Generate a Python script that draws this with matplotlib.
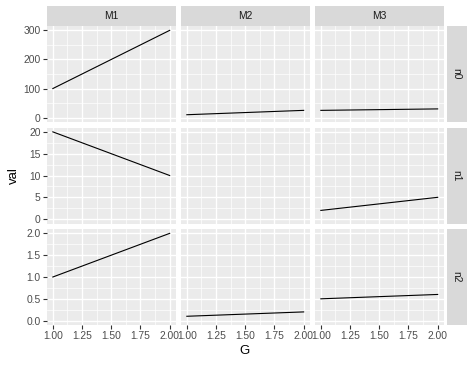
import matplotlib
matplotlib.use("Agg")
import matplotlib.pyplot as plt
import numpy as np

# ---- data ----
G = [1.0, 2.0]
row_labels = ["n0", "n1", "n2"]
col_labels = ["M1", "M2", "M3"]
n0_M1 = [100, 300]
n0_M2 = [10, 25]
n0_M3 = [25, 30]
n1_M1 = [20, 10]
n1_M2 = None
n1_M3 = [2, 5]
n2_M1 = [1.0, 2.0]
n2_M2 = [0.1, 0.2]
n2_M3 = [0.5, 0.6]
series = {
    ("n0", "M1"): n0_M1, ("n0", "M2"): n0_M2, ("n0", "M3"): n0_M3,
    ("n1", "M1"): n1_M1, ("n1", "M2"): n1_M2, ("n1", "M3"): n1_M3,
    ("n2", "M1"): n2_M1, ("n2", "M2"): n2_M2, ("n2", "M3"): n2_M3,
}
x_ticks = [1.00, 1.25, 1.50, 1.75, 2.00]
x_ticklabels = ["1.00", "1.25", "1.50", "1.75", "2.00"]
y_ticks = {
    "n0": [0, 100, 200, 300],
    "n1": [0, 5, 10, 15, 20],
    "n2": [0.0, 0.5, 1.0, 1.5, 2.0],
}
y_ticklabels = {
    "n0": ["0", "100", "200", "300"],
    "n1": ["0", "5", "10", "15", "20"],
    "n2": ["0.0", "0.5", "1.0", "1.5", "2.0"],
}

# ---- layout (pixels) ----
W, H = 474, 365
DPI = 100
fig = plt.figure(figsize=(W / DPI, H / DPI), dpi=DPI)
fig.patch.set_facecolor("white")
plt.rcParams["font.family"] = ["Liberation Sans", "DejaVu Sans"]

def ax_px(x0, y0, w, h):
    return fig.add_axes([x0 / W, 1 - (y0 + h) / H, w / W, h / H])

panel_left = 47.0
panel_right = 443.5
gap = 5.5
pw = (panel_right - panel_left - 2 * gap) / 3
row_tops = [26.0, 127.5, 229.0]
ph = 96.0
strip_top = 6.0
strip_h = 20.0
rstrip_x = 446.5
rstrip_w = 20.0

bg = "#EBEBEB"
strip_bg = "#D9D9D9"
tick_col = "#4D4D4D"
tick_fs = 7.4
strip_fs = 7.4

def xlim_from(vals):
    lo, hi = min(vals), max(vals)
    e = 0.05 * (hi - lo)
    return lo - e, hi + e

xl = xlim_from(G)

for ri, r in enumerate(row_labels):
    vals = [0.0]
    for c in col_labels:
        s = series[(r, c)]
        if s is not None:
            vals += list(s)
    lo, hi = min(vals), max(vals)
    e = 0.05 * (hi - lo)
    yl = (lo - e, hi + e)
    yt = y_ticks[r]
    ymin_minor = [(a + b) / 2 for a, b in zip(yt[:-1], yt[1:])]
    step = yt[1] - yt[0]
    extra = [yt[0] - step / 2, yt[-1] + step / 2]
    ymin_minor += [v for v in extra if yl[0] <= v <= yl[1]]
    xmin_minor = [(a + b) / 2 for a, b in zip(x_ticks[:-1], x_ticks[1:])]
    for ci, c in enumerate(col_labels):
        x0 = panel_left + ci * (pw + gap)
        ax = ax_px(x0, row_tops[ri], pw, ph)
        ax.set_facecolor(bg)
        for sp in ax.spines.values():
            sp.set_visible(False)
        ax.set_xlim(*xl)
        ax.set_ylim(*yl)
        ax.set_xticks(x_ticks)
        ax.set_yticks(yt)
        ax.set_xticks(xmin_minor, minor=True)
        ax.set_yticks(ymin_minor, minor=True)
        ax.grid(True, which="major", color="white", linewidth=1.0)
        ax.grid(True, which="minor", color="white", linewidth=0.5)
        ax.set_axisbelow(True)
        ax.tick_params(which="minor", length=0)
        ax.tick_params(which="major", length=3, width=0.8, color="#333333",
                       labelsize=tick_fs, labelcolor=tick_col, pad=1.5)
        if ci == 0:
            ax.set_yticklabels(y_ticklabels[r])
        else:
            ax.tick_params(axis="y", length=0, labelleft=False)
        if ri == len(row_labels) - 1:
            ax.set_xticklabels(x_ticklabels)
        else:
            ax.tick_params(axis="x", length=0, labelbottom=False)
        s = series[(r, c)]
        if s is not None:
            ax.plot(G, s, color="black", linewidth=0.8)

        # column strips
        if ri == 0:
            sa = ax_px(x0, strip_top, pw, strip_h)
            sa.set_facecolor(strip_bg)
            sa.set_xticks([]); sa.set_yticks([])
            for sp in sa.spines.values():
                sp.set_visible(False)
            sa.text(0.5, 0.5, c, ha="center", va="center", fontsize=strip_fs,
                    color="#1A1A1A", transform=sa.transAxes)
    # row strip
    ra = ax_px(rstrip_x, row_tops[ri], rstrip_w, ph)
    ra.set_facecolor(strip_bg)
    ra.set_xticks([]); ra.set_yticks([])
    for sp in ra.spines.values():
        sp.set_visible(False)
    ra.text(0.5, 0.5, r, ha="center", va="center", fontsize=strip_fs,
            color="#1A1A1A", rotation=-90, transform=ra.transAxes)

fig.text(245 / W, 1 - 351 / H, "G", ha="center", va="center", fontsize=9.5, color="black")
fig.text(14 / W, 1 - 176 / H, "val", ha="center", va="center", fontsize=9.5,
         color="black", rotation=90)

fig.savefig("out.png", dpi=DPI, facecolor="white")
